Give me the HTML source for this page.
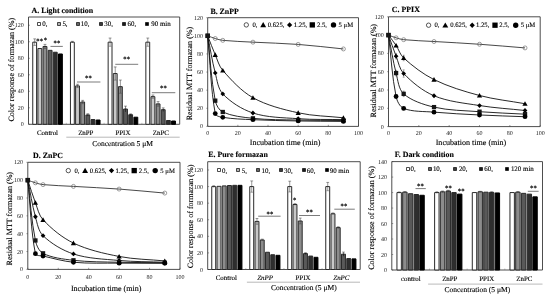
<!DOCTYPE html>
<html lang="en">
<head>
<meta charset="utf-8">
<title>Figure: photosensitized degradation of MTT formazan</title>
<style>
html,body{margin:0;padding:0;background:#fff;}
body{width:550px;height:297px;overflow:hidden;}
svg{display:block;}
svg text{stroke:#000;stroke-width:0.12px;}
svg text.tk{stroke:none;fill:#1a1a1a;}
</style>
</head>
<body>
<svg width="550" height="297" viewBox="0 0 550 297" font-family='"Liberation Serif", "DejaVu Serif", serif' text-rendering="geometricPrecision">
<rect x="0" y="0" width="550" height="297" fill="#fff"/>
<g stroke-linejoin="round">
<rect x="28.5" y="17" width="151.2" height="107.3" fill="#fff" stroke="#3a3a3a" stroke-width="0.9"/>
<line x1="28.5" y1="124.3" x2="29.9" y2="124.3" stroke="#3a3a3a" stroke-width="0.5"/>
<text x="23.7" y="126.3" font-size="6" text-anchor="end" class="tk">0</text>
<line x1="28.5" y1="107.79" x2="29.9" y2="107.79" stroke="#3a3a3a" stroke-width="0.5"/>
<text x="23.7" y="109.79" font-size="6" text-anchor="end" class="tk">20</text>
<line x1="28.5" y1="91.28" x2="29.9" y2="91.28" stroke="#3a3a3a" stroke-width="0.5"/>
<text x="23.7" y="93.28" font-size="6" text-anchor="end" class="tk">40</text>
<line x1="28.5" y1="74.78" x2="29.9" y2="74.78" stroke="#3a3a3a" stroke-width="0.5"/>
<text x="23.7" y="76.78" font-size="6" text-anchor="end" class="tk">60</text>
<line x1="28.5" y1="58.27" x2="29.9" y2="58.27" stroke="#3a3a3a" stroke-width="0.5"/>
<text x="23.7" y="60.27" font-size="6" text-anchor="end" class="tk">80</text>
<line x1="28.5" y1="41.76" x2="29.9" y2="41.76" stroke="#3a3a3a" stroke-width="0.5"/>
<text x="23.7" y="43.76" font-size="6" text-anchor="end" class="tk">100</text>
<line x1="28.5" y1="25.25" x2="29.9" y2="25.25" stroke="#3a3a3a" stroke-width="0.5"/>
<text x="23.7" y="27.25" font-size="6" text-anchor="end" class="tk">120</text>
<line x1="66.3" y1="124.3" x2="66.3" y2="122.8" stroke="#666" stroke-width="0.4"/>
<line x1="104.1" y1="124.3" x2="104.1" y2="122.8" stroke="#666" stroke-width="0.4"/>
<line x1="141.9" y1="124.3" x2="141.9" y2="122.8" stroke="#666" stroke-width="0.4"/>
<text x="31.5" y="12.7" font-size="7.9" font-weight="bold">A. Light condition</text>
<text x="14" y="69.7" font-size="8.05" text-anchor="middle" transform="rotate(-90 14 69.7)">Color response of formazan (%)</text>
<rect x="32.75" y="42.17" width="3.85" height="82.13" fill="#ffffff" stroke="#2a2a2a" stroke-width="1"/>
<line x1="34.68" y1="38.87" x2="34.68" y2="45.48" stroke="#333" stroke-width="0.5"/>
<line x1="33.28" y1="38.87" x2="36.08" y2="38.87" stroke="#333" stroke-width="0.5"/>
<line x1="33.28" y1="45.48" x2="36.08" y2="45.48" stroke="#444" stroke-width="0.45"/>
<rect x="37.9" y="48.53" width="3.85" height="75.77" fill="#c8c8c8" stroke="#2a2a2a" stroke-width="1"/>
<rect x="43.05" y="46.47" width="3.85" height="77.83" fill="#8c8c8c" stroke="#2a2a2a" stroke-width="1"/>
<line x1="44.98" y1="44.4" x2="44.98" y2="48.53" stroke="#333" stroke-width="0.5"/>
<line x1="43.58" y1="44.4" x2="46.38" y2="44.4" stroke="#333" stroke-width="0.5"/>
<line x1="43.58" y1="48.53" x2="46.38" y2="48.53" stroke="#444" stroke-width="0.45"/>
<rect x="48.2" y="50.35" width="3.85" height="73.95" fill="#595959" stroke="#2a2a2a" stroke-width="1"/>
<rect x="53.35" y="52.24" width="3.85" height="72.06" fill="#2e2e2e" stroke="#2a2a2a" stroke-width="1"/>
<rect x="58.5" y="53.98" width="3.85" height="70.32" fill="#000000" stroke="#000" stroke-width="1"/>
<rect x="70.45" y="42.17" width="3.85" height="82.13" fill="#ffffff" stroke="#2a2a2a" stroke-width="1"/>
<line x1="72.38" y1="41.35" x2="72.38" y2="43" stroke="#333" stroke-width="0.5"/>
<line x1="70.98" y1="41.35" x2="73.78" y2="41.35" stroke="#333" stroke-width="0.5"/>
<rect x="75.6" y="85.92" width="3.85" height="38.38" fill="#c8c8c8" stroke="#2a2a2a" stroke-width="1"/>
<line x1="77.53" y1="84.27" x2="77.53" y2="87.57" stroke="#333" stroke-width="0.5"/>
<line x1="76.13" y1="84.27" x2="78.93" y2="84.27" stroke="#333" stroke-width="0.5"/>
<line x1="76.13" y1="87.57" x2="78.93" y2="87.57" stroke="#444" stroke-width="0.45"/>
<rect x="80.75" y="102.01" width="3.85" height="22.29" fill="#8c8c8c" stroke="#2a2a2a" stroke-width="1"/>
<line x1="82.68" y1="100.36" x2="82.68" y2="103.67" stroke="#333" stroke-width="0.5"/>
<line x1="81.28" y1="100.36" x2="84.08" y2="100.36" stroke="#333" stroke-width="0.5"/>
<line x1="81.28" y1="103.67" x2="84.08" y2="103.67" stroke="#444" stroke-width="0.45"/>
<rect x="85.9" y="114.97" width="3.85" height="9.33" fill="#595959" stroke="#2a2a2a" stroke-width="1"/>
<line x1="87.83" y1="113.74" x2="87.83" y2="116.21" stroke="#000" stroke-width="0.5"/>
<line x1="86.43" y1="113.74" x2="89.23" y2="113.74" stroke="#333" stroke-width="0.5"/>
<rect x="91.05" y="119.51" width="3.85" height="4.79" fill="#2e2e2e" stroke="#2a2a2a" stroke-width="1"/>
<rect x="96.2" y="120.01" width="3.85" height="4.29" fill="#000000" stroke="#000" stroke-width="1"/>
<rect x="108.15" y="42.17" width="3.85" height="82.13" fill="#ffffff" stroke="#2a2a2a" stroke-width="1"/>
<line x1="110.08" y1="38.05" x2="110.08" y2="46.3" stroke="#333" stroke-width="0.5"/>
<line x1="108.67" y1="38.05" x2="111.48" y2="38.05" stroke="#333" stroke-width="0.5"/>
<line x1="108.67" y1="46.3" x2="111.48" y2="46.3" stroke="#444" stroke-width="0.45"/>
<rect x="113.3" y="73.54" width="3.85" height="50.76" fill="#c8c8c8" stroke="#2a2a2a" stroke-width="1"/>
<line x1="115.23" y1="66.94" x2="115.23" y2="80.14" stroke="#333" stroke-width="0.5"/>
<line x1="113.83" y1="66.94" x2="116.63" y2="66.94" stroke="#333" stroke-width="0.5"/>
<line x1="113.83" y1="80.14" x2="116.63" y2="80.14" stroke="#444" stroke-width="0.45"/>
<rect x="118.45" y="86.66" width="3.85" height="37.64" fill="#8c8c8c" stroke="#2a2a2a" stroke-width="1"/>
<line x1="120.38" y1="80.06" x2="120.38" y2="93.27" stroke="#333" stroke-width="0.5"/>
<line x1="118.97" y1="80.06" x2="121.78" y2="80.06" stroke="#333" stroke-width="0.5"/>
<line x1="118.97" y1="93.27" x2="121.78" y2="93.27" stroke="#444" stroke-width="0.45"/>
<rect x="123.6" y="109.03" width="3.85" height="15.27" fill="#595959" stroke="#2a2a2a" stroke-width="1"/>
<line x1="125.53" y1="106.14" x2="125.53" y2="111.92" stroke="#000" stroke-width="0.5"/>
<line x1="124.12" y1="106.14" x2="126.93" y2="106.14" stroke="#333" stroke-width="0.5"/>
<rect x="128.75" y="114.73" width="3.85" height="9.57" fill="#2e2e2e" stroke="#2a2a2a" stroke-width="1"/>
<line x1="130.67" y1="113.9" x2="130.67" y2="115.55" stroke="#000" stroke-width="0.5"/>
<line x1="129.27" y1="113.9" x2="132.07" y2="113.9" stroke="#333" stroke-width="0.5"/>
<rect x="133.9" y="117.2" width="3.85" height="7.1" fill="#000000" stroke="#000" stroke-width="1"/>
<rect x="145.85" y="42.17" width="3.85" height="82.13" fill="#ffffff" stroke="#2a2a2a" stroke-width="1"/>
<line x1="147.78" y1="38.05" x2="147.78" y2="46.3" stroke="#333" stroke-width="0.5"/>
<line x1="146.38" y1="38.05" x2="149.18" y2="38.05" stroke="#333" stroke-width="0.5"/>
<line x1="146.38" y1="46.3" x2="149.18" y2="46.3" stroke="#444" stroke-width="0.45"/>
<rect x="151" y="96.65" width="3.85" height="27.65" fill="#c8c8c8" stroke="#2a2a2a" stroke-width="1"/>
<line x1="152.93" y1="95" x2="152.93" y2="98.3" stroke="#333" stroke-width="0.5"/>
<line x1="151.53" y1="95" x2="154.33" y2="95" stroke="#333" stroke-width="0.5"/>
<line x1="151.53" y1="98.3" x2="154.33" y2="98.3" stroke="#444" stroke-width="0.45"/>
<rect x="156.15" y="103.91" width="3.85" height="20.39" fill="#8c8c8c" stroke="#2a2a2a" stroke-width="1"/>
<line x1="158.08" y1="101.6" x2="158.08" y2="106.22" stroke="#333" stroke-width="0.5"/>
<line x1="156.68" y1="101.6" x2="159.48" y2="101.6" stroke="#333" stroke-width="0.5"/>
<line x1="156.68" y1="106.22" x2="159.48" y2="106.22" stroke="#444" stroke-width="0.45"/>
<rect x="161.3" y="109.69" width="3.85" height="14.61" fill="#595959" stroke="#2a2a2a" stroke-width="1"/>
<line x1="163.22" y1="107.87" x2="163.22" y2="111.51" stroke="#000" stroke-width="0.5"/>
<line x1="161.82" y1="107.87" x2="164.62" y2="107.87" stroke="#333" stroke-width="0.5"/>
<rect x="166.45" y="120.5" width="3.85" height="3.8" fill="#2e2e2e" stroke="#2a2a2a" stroke-width="1"/>
<rect x="171.6" y="121" width="3.85" height="3.3" fill="#000000" stroke="#000" stroke-width="1"/>
<rect x="37.5" y="22.5" width="3" height="3" fill="#ffffff" stroke="#111" stroke-width="0.75"/>
<text x="42.2" y="26.35" font-size="6.95">0,</text>
<rect x="57.5" y="22.5" width="3" height="3" fill="#b4b4b4" stroke="#111" stroke-width="0.75"/>
<text x="62.4" y="26.35" font-size="6.95">5,</text>
<rect x="76.5" y="22.5" width="3" height="3" fill="#666666" stroke="#111" stroke-width="0.75"/>
<text x="80.8" y="26.35" font-size="6.95">10,</text>
<rect x="99.5" y="22.5" width="3" height="3" fill="#3c3c3c" stroke="#111" stroke-width="0.75"/>
<text x="104.3" y="26.35" font-size="6.95">30,</text>
<rect x="122.5" y="22.5" width="3" height="3" fill="#1c1c1c" stroke="#111" stroke-width="0.75"/>
<text x="127.5" y="26.35" font-size="6.95">60,</text>
<rect x="145.5" y="22.5" width="3" height="3" fill="#000000" stroke="#111" stroke-width="0.75"/>
<text x="151.3" y="26.35" font-size="6.95">90 min</text>
<text x="47.5" y="135" font-size="6.9" text-anchor="middle">Control</text>
<text x="85.8" y="135" font-size="6.9" text-anchor="middle">ZnPP</text>
<text x="122.9" y="135" font-size="6.9" text-anchor="middle">PPIX</text>
<text x="160.8" y="135" font-size="6.9" text-anchor="middle">ZnPC</text>
<line x1="66.3" y1="137.2" x2="179.7" y2="137.2" stroke="#8a8a8a" stroke-width="0.6"/>
<text x="122.5" y="145.7" font-size="7.5" text-anchor="middle">Concentration 5 μM</text>
<text x="39.8" y="43.1" font-size="6.6" text-anchor="middle" font-weight="bold" letter-spacing="0.2">**</text>
<text x="45.6" y="42.2" font-size="6.6" text-anchor="middle" font-weight="bold" letter-spacing="0.2">*</text>
<text x="57" y="45" font-size="6.6" text-anchor="middle" font-weight="bold" letter-spacing="0.2">**</text>
<line x1="50.5" y1="46.4" x2="62.8" y2="46.4" stroke="#222" stroke-width="0.6"/>
<text x="88.4" y="80.2" font-size="6.6" text-anchor="middle" font-weight="bold" letter-spacing="0.2">**</text>
<line x1="77" y1="82" x2="100.4" y2="82" stroke="#222" stroke-width="0.6"/>
<text x="126.8" y="61.4" font-size="6.6" text-anchor="middle" font-weight="bold" letter-spacing="0.2">**</text>
<line x1="115.3" y1="64.3" x2="138.2" y2="64.3" stroke="#222" stroke-width="0.6"/>
<text x="163.6" y="90.2" font-size="6.6" text-anchor="middle" font-weight="bold" letter-spacing="0.2">**</text>
<line x1="151.8" y1="92.7" x2="175.3" y2="92.7" stroke="#222" stroke-width="0.6"/>
<rect x="207.7" y="17.7" width="150.8" height="108.7" fill="#fff" stroke="#3a3a3a" stroke-width="0.9"/>
<line x1="206.3" y1="126.4" x2="207.7" y2="126.4" stroke="#3a3a3a" stroke-width="0.5"/>
<text x="202.9" y="128.4" font-size="6" text-anchor="end" class="tk">0</text>
<line x1="206.3" y1="108.28" x2="207.7" y2="108.28" stroke="#3a3a3a" stroke-width="0.5"/>
<text x="202.9" y="110.28" font-size="6" text-anchor="end" class="tk">20</text>
<line x1="206.3" y1="90.17" x2="207.7" y2="90.17" stroke="#3a3a3a" stroke-width="0.5"/>
<text x="202.9" y="92.17" font-size="6" text-anchor="end" class="tk">40</text>
<line x1="206.3" y1="72.05" x2="207.7" y2="72.05" stroke="#3a3a3a" stroke-width="0.5"/>
<text x="202.9" y="74.05" font-size="6" text-anchor="end" class="tk">60</text>
<line x1="206.3" y1="53.93" x2="207.7" y2="53.93" stroke="#3a3a3a" stroke-width="0.5"/>
<text x="202.9" y="55.93" font-size="6" text-anchor="end" class="tk">80</text>
<line x1="206.3" y1="35.82" x2="207.7" y2="35.82" stroke="#3a3a3a" stroke-width="0.5"/>
<text x="202.9" y="37.82" font-size="6" text-anchor="end" class="tk">100</text>
<line x1="206.3" y1="17.7" x2="207.7" y2="17.7" stroke="#3a3a3a" stroke-width="0.5"/>
<text x="202.9" y="19.7" font-size="6" text-anchor="end" class="tk">120</text>
<line x1="207.7" y1="126.4" x2="207.7" y2="124.8" stroke="#3a3a3a" stroke-width="0.5"/>
<text x="207.7" y="134.9" font-size="6" text-anchor="middle" class="tk">0</text>
<line x1="237.86" y1="126.4" x2="237.86" y2="124.8" stroke="#3a3a3a" stroke-width="0.5"/>
<text x="237.86" y="134.9" font-size="6" text-anchor="middle" class="tk">20</text>
<line x1="268.02" y1="126.4" x2="268.02" y2="124.8" stroke="#3a3a3a" stroke-width="0.5"/>
<text x="268.02" y="134.9" font-size="6" text-anchor="middle" class="tk">40</text>
<line x1="298.18" y1="126.4" x2="298.18" y2="124.8" stroke="#3a3a3a" stroke-width="0.5"/>
<text x="298.18" y="134.9" font-size="6" text-anchor="middle" class="tk">60</text>
<line x1="328.34" y1="126.4" x2="328.34" y2="124.8" stroke="#3a3a3a" stroke-width="0.5"/>
<text x="328.34" y="134.9" font-size="6" text-anchor="middle" class="tk">80</text>
<line x1="358.5" y1="126.4" x2="358.5" y2="124.8" stroke="#3a3a3a" stroke-width="0.5"/>
<text x="358.5" y="134.9" font-size="6" text-anchor="middle" class="tk">100</text>
<text x="210.4" y="13.8" font-size="7.9" font-weight="bold">B. ZnPP</text>
<text x="192.1" y="73.5" font-size="8.05" text-anchor="middle" transform="rotate(-90 192.1 73.5)">Residual MTT formazan (%)</text>
<text x="285.1" y="145.2" font-size="8.05" text-anchor="middle">Incubation time (min)</text>
<path d="M207.7 35.82C210.21 36.72 212.69 37.77 215.24 38.53C217.71 39.28 220.21 40.1 222.78 40.35C232.78 41.31 242.88 41.61 252.94 42.16C268.02 42.97 283.13 43.29 298.18 44.42C313.29 45.56 328.34 47.44 343.42 48.95" fill="none" stroke="#333" stroke-width="0.9"/>
<path d="M207.7 35.82C210.21 42.16 212.52 48.59 215.24 54.84C217.54 60.12 219.03 66.15 222.78 70.42C231.59 80.44 241.38 91.18 252.94 97.69C266.51 105.31 282.75 109.38 298.18 112.81C312.91 116.09 328.34 116.13 343.42 117.79" fill="none" stroke="#111" stroke-width="0.9"/>
<path d="M207.7 35.82C210.21 48.2 212.07 60.76 215.24 72.96C217.1 80.11 217.96 88.76 222.78 93.88C230.52 102.1 241.9 109.36 252.94 112.99C267.04 117.63 283.04 117.59 298.18 118.7C313.2 119.8 328.34 119.3 343.42 119.61" fill="none" stroke="#111" stroke-width="0.9"/>
<path d="M207.7 35.82C210.21 57.44 211.08 79.66 215.24 100.67C216.11 105.05 218.93 110.19 222.78 112C231.5 116.08 242.76 117.25 252.94 118.34C267.89 119.94 283.09 119.7 298.18 120.06C313.25 120.42 328.34 120.36 343.42 120.51" fill="none" stroke="#111" stroke-width="0.9"/>
<path d="M207.7 35.82C210.21 61.72 210.7 89.01 215.24 113.54C215.73 116.19 220.04 116.89 222.78 117.34C232.6 118.95 242.87 119.21 252.94 119.7C268 120.42 283.1 120.68 298.18 120.97C313.26 121.25 328.34 121.27 343.42 121.42" fill="none" stroke="#111" stroke-width="0.9"/>
<circle cx="215.24" cy="38.53" r="2" fill="none" stroke="#6a6a6a" stroke-width="0.65"/>
<circle cx="222.78" cy="40.35" r="2" fill="none" stroke="#6a6a6a" stroke-width="0.65"/>
<circle cx="252.94" cy="42.16" r="2" fill="none" stroke="#6a6a6a" stroke-width="0.65"/>
<circle cx="298.18" cy="44.42" r="2" fill="none" stroke="#6a6a6a" stroke-width="0.65"/>
<circle cx="343.42" cy="48.95" r="2" fill="none" stroke="#6a6a6a" stroke-width="0.65"/>
<path d="M215.24 52.34L217.86 56.96L212.61 56.96Z" fill="#000"/>
<path d="M222.78 67.92L225.41 72.54L220.16 72.54Z" fill="#000"/>
<path d="M252.94 95.19L255.56 99.81L250.31 99.81Z" fill="#000"/>
<path d="M298.18 110.31L300.81 114.94L295.56 114.94Z" fill="#000"/>
<path d="M343.42 115.29L346.04 119.92L340.79 119.92Z" fill="#000"/>
<path d="M215.24 70.56L217.59 72.96L215.24 75.36L212.89 72.96Z" fill="#000"/>
<path d="M222.78 91.48L225.13 93.88L222.78 96.28L220.43 93.88Z" fill="#000"/>
<path d="M252.94 110.59L255.29 112.99L252.94 115.39L250.59 112.99Z" fill="#000"/>
<path d="M298.18 116.3L300.53 118.7L298.18 121.1L295.83 118.7Z" fill="#000"/>
<path d="M343.42 117.21L345.77 119.61L343.42 122.01L341.07 119.61Z" fill="#000"/>
<rect x="205.55" y="33.67" width="4.3" height="4.3" fill="#151515"/>
<rect x="213.09" y="98.52" width="4.3" height="4.3" fill="#151515"/>
<rect x="220.63" y="109.85" width="4.3" height="4.3" fill="#151515"/>
<rect x="250.79" y="116.19" width="4.3" height="4.3" fill="#151515"/>
<rect x="296.03" y="117.91" width="4.3" height="4.3" fill="#151515"/>
<rect x="341.27" y="118.36" width="4.3" height="4.3" fill="#151515"/>
<circle cx="215.24" cy="113.54" r="2.4" fill="#000"/>
<circle cx="222.78" cy="117.34" r="2.4" fill="#000"/>
<circle cx="252.94" cy="119.7" r="2.4" fill="#000"/>
<circle cx="298.18" cy="120.97" r="2.4" fill="#000"/>
<circle cx="343.42" cy="121.42" r="2.4" fill="#000"/>
<rect x="205.44" y="33.56" width="4.51" height="4.51" fill="#151515"/>
<circle cx="246.3" cy="24.9" r="2.2" fill="#fff" stroke="#222" stroke-width="0.75"/>
<text x="252.4" y="27.1" font-size="6.7">0,</text>
<path d="M263.2 22.1L266.14 27.28L260.26 27.28Z" fill="#000"/>
<text x="267.7" y="27.1" font-size="6.7">0.625,</text>
<path d="M289.6 22.21L292.23 24.9L289.6 27.59L286.97 24.9Z" fill="#000"/>
<text x="293.8" y="27.1" font-size="6.7">1.25,</text>
<rect x="309.65" y="22.25" width="5.3" height="5.3" fill="#000"/>
<text x="317" y="27.1" font-size="6.7">2.5,</text>
<circle cx="333.5" cy="24.9" r="2.69" fill="#000"/>
<text x="338.6" y="27.1" font-size="6.7">5 μM</text>
<rect x="388.5" y="16.8" width="151.7" height="109.8" fill="#fff" stroke="#3a3a3a" stroke-width="0.9"/>
<line x1="387.1" y1="126.6" x2="388.5" y2="126.6" stroke="#3a3a3a" stroke-width="0.5"/>
<text x="383.7" y="128.6" font-size="6" text-anchor="end" class="tk">0</text>
<line x1="387.1" y1="108.3" x2="388.5" y2="108.3" stroke="#3a3a3a" stroke-width="0.5"/>
<text x="383.7" y="110.3" font-size="6" text-anchor="end" class="tk">20</text>
<line x1="387.1" y1="90" x2="388.5" y2="90" stroke="#3a3a3a" stroke-width="0.5"/>
<text x="383.7" y="92" font-size="6" text-anchor="end" class="tk">40</text>
<line x1="387.1" y1="71.7" x2="388.5" y2="71.7" stroke="#3a3a3a" stroke-width="0.5"/>
<text x="383.7" y="73.7" font-size="6" text-anchor="end" class="tk">60</text>
<line x1="387.1" y1="53.4" x2="388.5" y2="53.4" stroke="#3a3a3a" stroke-width="0.5"/>
<text x="383.7" y="55.4" font-size="6" text-anchor="end" class="tk">80</text>
<line x1="387.1" y1="35.1" x2="388.5" y2="35.1" stroke="#3a3a3a" stroke-width="0.5"/>
<text x="383.7" y="37.1" font-size="6" text-anchor="end" class="tk">100</text>
<line x1="387.1" y1="16.8" x2="388.5" y2="16.8" stroke="#3a3a3a" stroke-width="0.5"/>
<text x="383.7" y="18.8" font-size="6" text-anchor="end" class="tk">120</text>
<line x1="388.5" y1="126.6" x2="388.5" y2="125" stroke="#3a3a3a" stroke-width="0.5"/>
<text x="388.5" y="134.9" font-size="6" text-anchor="middle" class="tk">0</text>
<line x1="418.84" y1="126.6" x2="418.84" y2="125" stroke="#3a3a3a" stroke-width="0.5"/>
<text x="418.84" y="134.9" font-size="6" text-anchor="middle" class="tk">20</text>
<line x1="449.18" y1="126.6" x2="449.18" y2="125" stroke="#3a3a3a" stroke-width="0.5"/>
<text x="449.18" y="134.9" font-size="6" text-anchor="middle" class="tk">40</text>
<line x1="479.52" y1="126.6" x2="479.52" y2="125" stroke="#3a3a3a" stroke-width="0.5"/>
<text x="479.52" y="134.9" font-size="6" text-anchor="middle" class="tk">60</text>
<line x1="509.86" y1="126.6" x2="509.86" y2="125" stroke="#3a3a3a" stroke-width="0.5"/>
<text x="509.86" y="134.9" font-size="6" text-anchor="middle" class="tk">80</text>
<line x1="540.2" y1="126.6" x2="540.2" y2="125" stroke="#3a3a3a" stroke-width="0.5"/>
<text x="540.2" y="134.9" font-size="6" text-anchor="middle" class="tk">100</text>
<text x="391.8" y="12" font-size="7.9" font-weight="bold">C. PPIX</text>
<text x="376.3" y="70.7" font-size="8.05" text-anchor="middle" transform="rotate(-90 376.3 70.7)">Residual MTT formazan (%)</text>
<text x="471" y="145.4" font-size="8.05" text-anchor="middle">Incubation time (min)</text>
<path d="M388.5 35.1C391.03 36.02 393.51 37.07 396.08 37.84C398.57 38.59 401.09 39.43 403.67 39.67C413.73 40.65 423.9 40.89 434.01 41.5C449.18 42.42 464.36 43.18 479.52 44.25C494.7 45.32 509.86 46.69 525.03 47.91" fill="none" stroke="#333" stroke-width="0.9"/>
<path d="M388.5 35.1C391.03 38.55 393.72 41.88 396.08 45.44C398.78 49.51 400.1 54.76 403.67 57.97C412.74 66.14 422.99 74.12 434.01 79.57C448.28 86.62 464.03 91.38 479.52 95.49C494.37 99.43 509.86 100.98 525.03 103.72" fill="none" stroke="#111" stroke-width="0.9"/>
<path d="M388.5 35.1C391.03 42.12 393.35 49.21 396.08 56.14C398.41 62.02 399.43 69.1 403.67 73.53C412.07 82.31 422.71 90.99 434.01 95.76C447.99 101.67 464.22 103.08 479.52 105.55C494.56 107.99 509.86 108.85 525.03 110.5" fill="none" stroke="#111" stroke-width="0.9"/>
<path d="M388.5 35.1C391.03 47.76 392.87 60.61 396.08 73.07C397.92 80.19 398.61 89.3 403.67 93.84C411.25 100.65 423.39 104.61 434.01 107.11C448.68 110.56 464.32 110.51 479.52 111.69C494.66 112.86 509.86 113.33 525.03 114.16" fill="none" stroke="#111" stroke-width="0.9"/>
<path d="M388.5 35.1C391.03 55.57 391.97 76.6 396.08 96.5C397.02 101.03 399.68 106.74 403.67 108.39C412.32 111.96 423.86 111.26 434.01 112.14C449.15 113.46 464.34 114.22 479.52 114.98C494.68 115.74 509.86 116.14 525.03 116.72" fill="none" stroke="#111" stroke-width="0.9"/>
<line x1="403.67" y1="69.87" x2="403.67" y2="77.19" stroke="#333" stroke-width="0.4"/>
<line x1="402.67" y1="69.87" x2="404.67" y2="69.87" stroke="#333" stroke-width="0.4"/>
<line x1="402.67" y1="77.19" x2="404.67" y2="77.19" stroke="#333" stroke-width="0.4"/>
<line x1="403.67" y1="91.1" x2="403.67" y2="96.59" stroke="#333" stroke-width="0.4"/>
<line x1="402.67" y1="91.1" x2="404.67" y2="91.1" stroke="#333" stroke-width="0.4"/>
<line x1="402.67" y1="96.59" x2="404.67" y2="96.59" stroke="#333" stroke-width="0.4"/>
<line x1="396.08" y1="70.33" x2="396.08" y2="75.82" stroke="#333" stroke-width="0.4"/>
<line x1="395.08" y1="70.33" x2="397.08" y2="70.33" stroke="#333" stroke-width="0.4"/>
<line x1="395.08" y1="75.82" x2="397.08" y2="75.82" stroke="#333" stroke-width="0.4"/>
<line x1="396.08" y1="53.4" x2="396.08" y2="58.89" stroke="#333" stroke-width="0.4"/>
<line x1="395.08" y1="53.4" x2="397.08" y2="53.4" stroke="#333" stroke-width="0.4"/>
<line x1="395.08" y1="58.89" x2="397.08" y2="58.89" stroke="#333" stroke-width="0.4"/>
<line x1="403.67" y1="55.23" x2="403.67" y2="60.72" stroke="#333" stroke-width="0.4"/>
<line x1="402.67" y1="55.23" x2="404.67" y2="55.23" stroke="#333" stroke-width="0.4"/>
<line x1="402.67" y1="60.72" x2="404.67" y2="60.72" stroke="#333" stroke-width="0.4"/>
<circle cx="396.08" cy="37.84" r="2" fill="none" stroke="#6a6a6a" stroke-width="0.65"/>
<circle cx="403.67" cy="39.67" r="2" fill="none" stroke="#6a6a6a" stroke-width="0.65"/>
<circle cx="434.01" cy="41.5" r="2" fill="none" stroke="#6a6a6a" stroke-width="0.65"/>
<circle cx="479.52" cy="44.25" r="2" fill="none" stroke="#6a6a6a" stroke-width="0.65"/>
<circle cx="525.03" cy="47.91" r="2" fill="none" stroke="#6a6a6a" stroke-width="0.65"/>
<path d="M396.08 42.94L398.71 47.56L393.46 47.56Z" fill="#000"/>
<path d="M403.67 55.47L406.3 60.1L401.05 60.1Z" fill="#000"/>
<path d="M434.01 77.07L436.63 81.69L431.38 81.69Z" fill="#000"/>
<path d="M479.52 92.99L482.15 97.61L476.9 97.61Z" fill="#000"/>
<path d="M525.03 101.22L527.65 105.85L522.4 105.85Z" fill="#000"/>
<path d="M396.08 53.74L398.44 56.14L396.08 58.54L393.73 56.14Z" fill="#000"/>
<path d="M403.67 71.13L406.02 73.53L403.67 75.93L401.32 73.53Z" fill="#000"/>
<path d="M434.01 93.36L436.36 95.76L434.01 98.16L431.66 95.76Z" fill="#000"/>
<path d="M479.52 103.15L481.87 105.55L479.52 107.95L477.17 105.55Z" fill="#000"/>
<path d="M525.03 108.1L527.38 110.5L525.03 112.9L522.68 110.5Z" fill="#000"/>
<rect x="386.35" y="32.95" width="4.3" height="4.3" fill="#151515"/>
<rect x="393.94" y="70.92" width="4.3" height="4.3" fill="#151515"/>
<rect x="401.52" y="91.69" width="4.3" height="4.3" fill="#151515"/>
<rect x="431.86" y="104.96" width="4.3" height="4.3" fill="#151515"/>
<rect x="477.37" y="109.54" width="4.3" height="4.3" fill="#151515"/>
<rect x="522.88" y="112.01" width="4.3" height="4.3" fill="#151515"/>
<circle cx="396.08" cy="96.5" r="2.4" fill="#000"/>
<circle cx="403.67" cy="108.39" r="2.4" fill="#000"/>
<circle cx="434.01" cy="112.14" r="2.4" fill="#000"/>
<circle cx="479.52" cy="114.98" r="2.4" fill="#000"/>
<circle cx="525.03" cy="116.72" r="2.4" fill="#000"/>
<rect x="386.24" y="32.84" width="4.51" height="4.51" fill="#151515"/>
<circle cx="428.6" cy="25.2" r="2.2" fill="#fff" stroke="#222" stroke-width="0.75"/>
<text x="434.4" y="27.4" font-size="6.7">0,</text>
<path d="M445.3 22.4L448.24 27.58L442.36 27.58Z" fill="#000"/>
<text x="450.2" y="27.4" font-size="6.7">0.625,</text>
<path d="M472.2 22.51L474.83 25.2L472.2 27.89L469.57 25.2Z" fill="#000"/>
<text x="476" y="27.4" font-size="6.7">1.25,</text>
<rect x="492.35" y="22.55" width="5.3" height="5.3" fill="#000"/>
<text x="499.2" y="27.4" font-size="6.7">2.5,</text>
<circle cx="515.7" cy="25.2" r="2.69" fill="#000"/>
<text x="520.7" y="27.4" font-size="6.7">5 μM</text>
<rect x="27.8" y="162.3" width="152.2" height="107.1" fill="#fff" stroke="#3a3a3a" stroke-width="0.9"/>
<line x1="26.4" y1="269.4" x2="27.8" y2="269.4" stroke="#3a3a3a" stroke-width="0.5"/>
<text x="23" y="271.4" font-size="6" text-anchor="end" class="tk">0</text>
<line x1="26.4" y1="251.55" x2="27.8" y2="251.55" stroke="#3a3a3a" stroke-width="0.5"/>
<text x="23" y="253.55" font-size="6" text-anchor="end" class="tk">20</text>
<line x1="26.4" y1="233.7" x2="27.8" y2="233.7" stroke="#3a3a3a" stroke-width="0.5"/>
<text x="23" y="235.7" font-size="6" text-anchor="end" class="tk">40</text>
<line x1="26.4" y1="215.85" x2="27.8" y2="215.85" stroke="#3a3a3a" stroke-width="0.5"/>
<text x="23" y="217.85" font-size="6" text-anchor="end" class="tk">60</text>
<line x1="26.4" y1="198" x2="27.8" y2="198" stroke="#3a3a3a" stroke-width="0.5"/>
<text x="23" y="200" font-size="6" text-anchor="end" class="tk">80</text>
<line x1="26.4" y1="180.15" x2="27.8" y2="180.15" stroke="#3a3a3a" stroke-width="0.5"/>
<text x="23" y="182.15" font-size="6" text-anchor="end" class="tk">100</text>
<line x1="26.4" y1="162.3" x2="27.8" y2="162.3" stroke="#3a3a3a" stroke-width="0.5"/>
<text x="23" y="164.3" font-size="6" text-anchor="end" class="tk">120</text>
<line x1="27.8" y1="269.4" x2="27.8" y2="267.8" stroke="#3a3a3a" stroke-width="0.5"/>
<text x="27.8" y="278.6" font-size="6" text-anchor="middle" class="tk">0</text>
<line x1="58.24" y1="269.4" x2="58.24" y2="267.8" stroke="#3a3a3a" stroke-width="0.5"/>
<text x="58.24" y="278.6" font-size="6" text-anchor="middle" class="tk">20</text>
<line x1="88.68" y1="269.4" x2="88.68" y2="267.8" stroke="#3a3a3a" stroke-width="0.5"/>
<text x="88.68" y="278.6" font-size="6" text-anchor="middle" class="tk">40</text>
<line x1="119.12" y1="269.4" x2="119.12" y2="267.8" stroke="#3a3a3a" stroke-width="0.5"/>
<text x="119.12" y="278.6" font-size="6" text-anchor="middle" class="tk">60</text>
<line x1="149.56" y1="269.4" x2="149.56" y2="267.8" stroke="#3a3a3a" stroke-width="0.5"/>
<text x="149.56" y="278.6" font-size="6" text-anchor="middle" class="tk">80</text>
<line x1="180" y1="269.4" x2="180" y2="267.8" stroke="#3a3a3a" stroke-width="0.5"/>
<text x="180" y="278.6" font-size="6" text-anchor="middle" class="tk">100</text>
<text x="33.1" y="157.8" font-size="7.9" font-weight="bold">D. ZnPC</text>
<text x="12.4" y="218.7" font-size="8.05" text-anchor="middle" transform="rotate(-90 12.4 218.7)">Residual MTT formazan (%)</text>
<text x="106.2" y="291.2" font-size="8.05" text-anchor="middle">Incubation time (min)</text>
<path d="M27.8 180.15C30.34 181.04 32.83 182.07 35.41 182.83C37.91 183.56 40.43 184.37 43.02 184.61C53.12 185.56 63.31 185.8 73.46 186.4C88.68 187.29 103.92 187.96 119.12 189.07C134.36 190.19 149.56 191.75 164.78 193.09" fill="none" stroke="#333" stroke-width="0.9"/>
<path d="M27.8 180.15C30.34 187.68 32.57 195.32 35.41 202.73C37.64 208.53 38.87 215.37 43.02 219.78C51.55 228.82 62.14 237.62 73.46 243.07C87.51 249.84 103.62 253.43 119.12 256.46C134.06 259.38 149.56 259.43 164.78 260.92" fill="none" stroke="#111" stroke-width="0.9"/>
<path d="M27.8 180.15C30.34 192.35 32.13 204.77 35.41 216.74C37.2 223.28 38.39 231.14 43.02 235.66C51.08 243.54 62.42 250.36 73.46 253.96C87.79 258.63 103.83 259.09 119.12 260.47C134.27 261.85 149.56 261.66 164.78 262.26" fill="none" stroke="#111" stroke-width="0.9"/>
<path d="M27.8 180.15C30.34 200.26 31.34 220.9 35.41 240.48C36.41 245.29 38.92 251.2 43.02 253.33C51.6 257.8 63.16 259.09 73.46 260.3C88.53 262.06 103.89 261.86 119.12 262.26C134.33 262.66 149.56 262.56 164.78 262.71" fill="none" stroke="#111" stroke-width="0.9"/>
<path d="M27.8 180.15C30.34 204.66 30.83 230.86 35.41 253.69C35.9 256.15 40.43 255.43 43.02 256.01C53.12 258.29 63.19 261.3 73.46 262.26C88.56 263.68 103.9 262.97 119.12 263.15C134.34 263.33 149.56 263.27 164.78 263.33" fill="none" stroke="#111" stroke-width="0.9"/>
<circle cx="35.41" cy="182.83" r="2" fill="none" stroke="#6a6a6a" stroke-width="0.65"/>
<circle cx="43.02" cy="184.61" r="2" fill="none" stroke="#6a6a6a" stroke-width="0.65"/>
<circle cx="73.46" cy="186.4" r="2" fill="none" stroke="#6a6a6a" stroke-width="0.65"/>
<circle cx="119.12" cy="189.07" r="2" fill="none" stroke="#6a6a6a" stroke-width="0.65"/>
<circle cx="164.78" cy="193.09" r="2" fill="none" stroke="#6a6a6a" stroke-width="0.65"/>
<path d="M35.41 200.23L38.03 204.86L32.78 204.86Z" fill="#000"/>
<path d="M43.02 217.28L45.64 221.9L40.39 221.9Z" fill="#000"/>
<path d="M73.46 240.57L76.08 245.2L70.83 245.2Z" fill="#000"/>
<path d="M119.12 253.96L121.74 258.58L116.49 258.58Z" fill="#000"/>
<path d="M164.78 258.42L167.41 263.05L162.16 263.05Z" fill="#000"/>
<path d="M35.41 214.34L37.76 216.74L35.41 219.14L33.06 216.74Z" fill="#000"/>
<path d="M43.02 233.26L45.37 235.66L43.02 238.06L40.67 235.66Z" fill="#000"/>
<path d="M73.46 251.56L75.81 253.96L73.46 256.36L71.11 253.96Z" fill="#000"/>
<path d="M119.12 258.07L121.47 260.47L119.12 262.87L116.77 260.47Z" fill="#000"/>
<path d="M164.78 259.86L167.13 262.26L164.78 264.66L162.43 262.26Z" fill="#000"/>
<rect x="25.65" y="178" width="4.3" height="4.3" fill="#151515"/>
<rect x="33.26" y="238.33" width="4.3" height="4.3" fill="#151515"/>
<rect x="40.87" y="251.18" width="4.3" height="4.3" fill="#151515"/>
<rect x="71.31" y="258.15" width="4.3" height="4.3" fill="#151515"/>
<rect x="116.97" y="260.11" width="4.3" height="4.3" fill="#151515"/>
<rect x="162.63" y="260.56" width="4.3" height="4.3" fill="#151515"/>
<circle cx="35.41" cy="253.69" r="2.4" fill="#000"/>
<circle cx="43.02" cy="256.01" r="2.4" fill="#000"/>
<circle cx="73.46" cy="262.26" r="2.4" fill="#000"/>
<circle cx="119.12" cy="263.15" r="2.4" fill="#000"/>
<circle cx="164.78" cy="263.33" r="2.4" fill="#000"/>
<rect x="25.54" y="177.89" width="4.51" height="4.51" fill="#151515"/>
<circle cx="68.3" cy="170.6" r="2.2" fill="#fff" stroke="#222" stroke-width="0.75"/>
<text x="74.4" y="172.8" font-size="6.7">0,</text>
<path d="M85.1 167.8L88.04 172.98L82.16 172.98Z" fill="#000"/>
<text x="89.8" y="172.8" font-size="6.7">0.625,</text>
<path d="M111.5 167.91L114.13 170.6L111.5 173.29L108.87 170.6Z" fill="#000"/>
<text x="115.5" y="172.8" font-size="6.7">1.25,</text>
<rect x="131.55" y="167.95" width="5.3" height="5.3" fill="#000"/>
<text x="138.8" y="172.8" font-size="6.7">2.5,</text>
<circle cx="155.2" cy="170.6" r="2.69" fill="#000"/>
<text x="160.3" y="172.8" font-size="6.7">5 μM</text>
<rect x="207.7" y="161.7" width="152.5" height="107.8" fill="#fff" stroke="#3a3a3a" stroke-width="0.9"/>
<line x1="207.7" y1="269.5" x2="209.1" y2="269.5" stroke="#3a3a3a" stroke-width="0.5"/>
<text x="202.9" y="271.5" font-size="6" text-anchor="end" class="tk">0</text>
<line x1="207.7" y1="252.92" x2="209.1" y2="252.92" stroke="#3a3a3a" stroke-width="0.5"/>
<text x="202.9" y="254.92" font-size="6" text-anchor="end" class="tk">20</text>
<line x1="207.7" y1="236.33" x2="209.1" y2="236.33" stroke="#3a3a3a" stroke-width="0.5"/>
<text x="202.9" y="238.33" font-size="6" text-anchor="end" class="tk">40</text>
<line x1="207.7" y1="219.75" x2="209.1" y2="219.75" stroke="#3a3a3a" stroke-width="0.5"/>
<text x="202.9" y="221.75" font-size="6" text-anchor="end" class="tk">60</text>
<line x1="207.7" y1="203.16" x2="209.1" y2="203.16" stroke="#3a3a3a" stroke-width="0.5"/>
<text x="202.9" y="205.16" font-size="6" text-anchor="end" class="tk">80</text>
<line x1="207.7" y1="186.58" x2="209.1" y2="186.58" stroke="#3a3a3a" stroke-width="0.5"/>
<text x="202.9" y="188.58" font-size="6" text-anchor="end" class="tk">100</text>
<line x1="207.7" y1="169.99" x2="209.1" y2="169.99" stroke="#3a3a3a" stroke-width="0.5"/>
<text x="202.9" y="171.99" font-size="6" text-anchor="end" class="tk">120</text>
<line x1="245.82" y1="269.5" x2="245.82" y2="268" stroke="#666" stroke-width="0.4"/>
<line x1="283.95" y1="269.5" x2="283.95" y2="268" stroke="#666" stroke-width="0.4"/>
<line x1="322.07" y1="269.5" x2="322.07" y2="268" stroke="#666" stroke-width="0.4"/>
<text x="208.2" y="157.1" font-size="7.9" font-weight="bold">E. Pure formazan</text>
<text x="192.5" y="216.5" font-size="8.05" text-anchor="middle" transform="rotate(-90 192.5 216.5)">Color response of formazan (%)</text>
<rect x="211.75" y="186.58" width="3.95" height="82.92" fill="#ffffff" stroke="#2a2a2a" stroke-width="1"/>
<line x1="213.72" y1="185.75" x2="213.72" y2="187.41" stroke="#333" stroke-width="0.5"/>
<line x1="212.32" y1="185.75" x2="215.12" y2="185.75" stroke="#333" stroke-width="0.5"/>
<rect x="217" y="186.33" width="3.95" height="83.17" fill="#c8c8c8" stroke="#2a2a2a" stroke-width="1"/>
<rect x="222.25" y="185.91" width="3.95" height="83.59" fill="#8c8c8c" stroke="#2a2a2a" stroke-width="1"/>
<rect x="227.5" y="185.5" width="3.95" height="84" fill="#595959" stroke="#2a2a2a" stroke-width="1"/>
<rect x="232.75" y="185.33" width="3.95" height="84.17" fill="#2e2e2e" stroke="#2a2a2a" stroke-width="1"/>
<rect x="238" y="185.33" width="3.95" height="84.17" fill="#000000" stroke="#000" stroke-width="1"/>
<rect x="249.75" y="186.58" width="3.95" height="82.92" fill="#ffffff" stroke="#2a2a2a" stroke-width="1"/>
<line x1="251.72" y1="180.94" x2="251.72" y2="192.22" stroke="#333" stroke-width="0.5"/>
<line x1="250.32" y1="180.94" x2="253.12" y2="180.94" stroke="#333" stroke-width="0.5"/>
<line x1="250.32" y1="192.22" x2="253.12" y2="192.22" stroke="#444" stroke-width="0.45"/>
<rect x="255" y="221.4" width="3.95" height="48.1" fill="#c8c8c8" stroke="#2a2a2a" stroke-width="1"/>
<line x1="256.98" y1="218.5" x2="256.98" y2="224.31" stroke="#333" stroke-width="0.5"/>
<line x1="255.58" y1="218.5" x2="258.38" y2="218.5" stroke="#333" stroke-width="0.5"/>
<line x1="255.58" y1="224.31" x2="258.38" y2="224.31" stroke="#444" stroke-width="0.45"/>
<rect x="260.25" y="239.98" width="3.95" height="29.52" fill="#8c8c8c" stroke="#2a2a2a" stroke-width="1"/>
<line x1="262.23" y1="239.15" x2="262.23" y2="240.81" stroke="#333" stroke-width="0.5"/>
<line x1="260.83" y1="239.15" x2="263.62" y2="239.15" stroke="#333" stroke-width="0.5"/>
<rect x="265.5" y="252.25" width="3.95" height="17.25" fill="#595959" stroke="#2a2a2a" stroke-width="1"/>
<rect x="270.75" y="254.74" width="3.95" height="14.76" fill="#2e2e2e" stroke="#2a2a2a" stroke-width="1"/>
<rect x="276" y="255.32" width="3.95" height="14.18" fill="#000000" stroke="#000" stroke-width="1"/>
<rect x="287.75" y="186.58" width="3.95" height="82.92" fill="#ffffff" stroke="#2a2a2a" stroke-width="1"/>
<line x1="289.73" y1="181.19" x2="289.73" y2="191.97" stroke="#333" stroke-width="0.5"/>
<line x1="288.33" y1="181.19" x2="291.12" y2="181.19" stroke="#333" stroke-width="0.5"/>
<line x1="288.33" y1="191.97" x2="291.12" y2="191.97" stroke="#444" stroke-width="0.45"/>
<rect x="293" y="204.49" width="3.95" height="65.01" fill="#c8c8c8" stroke="#2a2a2a" stroke-width="1"/>
<line x1="294.98" y1="203.66" x2="294.98" y2="205.32" stroke="#333" stroke-width="0.5"/>
<line x1="293.58" y1="203.66" x2="296.38" y2="203.66" stroke="#333" stroke-width="0.5"/>
<rect x="298.25" y="220.99" width="3.95" height="48.51" fill="#8c8c8c" stroke="#2a2a2a" stroke-width="1"/>
<line x1="300.23" y1="218.09" x2="300.23" y2="223.89" stroke="#333" stroke-width="0.5"/>
<line x1="298.83" y1="218.09" x2="301.62" y2="218.09" stroke="#333" stroke-width="0.5"/>
<line x1="298.83" y1="223.89" x2="301.62" y2="223.89" stroke="#444" stroke-width="0.45"/>
<rect x="303.5" y="253.58" width="3.95" height="15.92" fill="#595959" stroke="#2a2a2a" stroke-width="1"/>
<line x1="305.48" y1="252.75" x2="305.48" y2="254.41" stroke="#000" stroke-width="0.5"/>
<line x1="304.08" y1="252.75" x2="306.88" y2="252.75" stroke="#333" stroke-width="0.5"/>
<rect x="308.75" y="256.07" width="3.95" height="13.43" fill="#2e2e2e" stroke="#2a2a2a" stroke-width="1"/>
<rect x="314" y="257.31" width="3.95" height="12.19" fill="#000000" stroke="#000" stroke-width="1"/>
<rect x="325.75" y="186.58" width="3.95" height="82.92" fill="#ffffff" stroke="#2a2a2a" stroke-width="1"/>
<line x1="327.73" y1="182.43" x2="327.73" y2="190.72" stroke="#333" stroke-width="0.5"/>
<line x1="326.33" y1="182.43" x2="329.12" y2="182.43" stroke="#333" stroke-width="0.5"/>
<line x1="326.33" y1="190.72" x2="329.12" y2="190.72" stroke="#444" stroke-width="0.45"/>
<rect x="331" y="213.78" width="3.95" height="55.72" fill="#c8c8c8" stroke="#2a2a2a" stroke-width="1"/>
<line x1="332.98" y1="212.95" x2="332.98" y2="214.6" stroke="#333" stroke-width="0.5"/>
<line x1="331.58" y1="212.95" x2="334.38" y2="212.95" stroke="#333" stroke-width="0.5"/>
<rect x="336.25" y="227.62" width="3.95" height="41.88" fill="#8c8c8c" stroke="#2a2a2a" stroke-width="1"/>
<line x1="338.23" y1="226.79" x2="338.23" y2="228.45" stroke="#333" stroke-width="0.5"/>
<line x1="336.83" y1="226.79" x2="339.62" y2="226.79" stroke="#333" stroke-width="0.5"/>
<rect x="341.5" y="254.16" width="3.95" height="15.34" fill="#595959" stroke="#2a2a2a" stroke-width="1"/>
<line x1="343.48" y1="252.09" x2="343.48" y2="256.23" stroke="#000" stroke-width="0.5"/>
<line x1="342.08" y1="252.09" x2="344.88" y2="252.09" stroke="#333" stroke-width="0.5"/>
<rect x="346.75" y="258.55" width="3.95" height="10.95" fill="#2e2e2e" stroke="#2a2a2a" stroke-width="1"/>
<rect x="352" y="258.89" width="3.95" height="10.61" fill="#000000" stroke="#000" stroke-width="1"/>
<rect x="217.5" y="168.5" width="3" height="3" fill="#ffffff" stroke="#111" stroke-width="0.75"/>
<text x="222.1" y="172.55" font-size="6.95">0,</text>
<rect x="236.5" y="168.5" width="3" height="3" fill="#b4b4b4" stroke="#111" stroke-width="0.75"/>
<text x="241.7" y="172.55" font-size="6.95">5,</text>
<rect x="256.5" y="168.5" width="3" height="3" fill="#666666" stroke="#111" stroke-width="0.75"/>
<text x="261.5" y="172.55" font-size="6.95">10,</text>
<rect x="279.5" y="168.5" width="3" height="3" fill="#3c3c3c" stroke="#111" stroke-width="0.75"/>
<text x="284.1" y="172.55" font-size="6.95">30,</text>
<rect x="302.5" y="168.5" width="3" height="3" fill="#1c1c1c" stroke="#111" stroke-width="0.75"/>
<text x="306.7" y="172.55" font-size="6.95">60,</text>
<rect x="325.5" y="168.5" width="3" height="3" fill="#000000" stroke="#111" stroke-width="0.75"/>
<text x="329.7" y="172.55" font-size="6.95">90 min</text>
<text x="226.3" y="280.2" font-size="6.9" text-anchor="middle">Control</text>
<text x="265" y="280.2" font-size="6.9" text-anchor="middle" font-style="italic">ZnPP</text>
<text x="303" y="280.2" font-size="6.9" text-anchor="middle">PPIX</text>
<text x="341.4" y="280.2" font-size="6.9" text-anchor="middle" font-style="italic">ZnPC</text>
<line x1="246.9" y1="282.2" x2="360" y2="282.2" stroke="#8a8a8a" stroke-width="0.6"/>
<text x="303.8" y="289.7" font-size="7.5" text-anchor="middle">Concentration (5 μM)</text>
<text x="270" y="215.7" font-size="6.6" text-anchor="middle" font-weight="bold" letter-spacing="0.2">**</text>
<line x1="258.2" y1="216.2" x2="280.6" y2="216.2" stroke="#222" stroke-width="0.6"/>
<text x="294.8" y="201.5" font-size="6.6" text-anchor="middle" font-weight="bold" letter-spacing="0.2">*</text>
<text x="309.5" y="213.6" font-size="6.6" text-anchor="middle" font-weight="bold" letter-spacing="0.2">**</text>
<line x1="299" y1="215.5" x2="320" y2="215.5" stroke="#222" stroke-width="0.6"/>
<text x="344.1" y="207.6" font-size="6.6" text-anchor="middle" font-weight="bold" letter-spacing="0.2">**</text>
<line x1="334.3" y1="209.2" x2="354.8" y2="209.2" stroke="#222" stroke-width="0.6"/>
<rect x="391.8" y="161.6" width="150.7" height="108.4" fill="#fff" stroke="#3a3a3a" stroke-width="0.9"/>
<line x1="391.8" y1="270" x2="393.2" y2="270" stroke="#3a3a3a" stroke-width="0.5"/>
<text x="387" y="272" font-size="6" text-anchor="end" class="tk">0</text>
<line x1="391.8" y1="254.51" x2="393.2" y2="254.51" stroke="#3a3a3a" stroke-width="0.5"/>
<text x="387" y="256.51" font-size="6" text-anchor="end" class="tk">20</text>
<line x1="391.8" y1="239.03" x2="393.2" y2="239.03" stroke="#3a3a3a" stroke-width="0.5"/>
<text x="387" y="241.03" font-size="6" text-anchor="end" class="tk">40</text>
<line x1="391.8" y1="223.54" x2="393.2" y2="223.54" stroke="#3a3a3a" stroke-width="0.5"/>
<text x="387" y="225.54" font-size="6" text-anchor="end" class="tk">60</text>
<line x1="391.8" y1="208.06" x2="393.2" y2="208.06" stroke="#3a3a3a" stroke-width="0.5"/>
<text x="387" y="210.06" font-size="6" text-anchor="end" class="tk">80</text>
<line x1="391.8" y1="192.57" x2="393.2" y2="192.57" stroke="#3a3a3a" stroke-width="0.5"/>
<text x="387" y="194.57" font-size="6" text-anchor="end" class="tk">100</text>
<line x1="391.8" y1="177.09" x2="393.2" y2="177.09" stroke="#3a3a3a" stroke-width="0.5"/>
<text x="387" y="179.09" font-size="6" text-anchor="end" class="tk">120</text>
<line x1="391.8" y1="161.6" x2="393.2" y2="161.6" stroke="#3a3a3a" stroke-width="0.5"/>
<text x="387" y="163.6" font-size="6" text-anchor="end" class="tk">140</text>
<line x1="429.48" y1="270" x2="429.48" y2="268.5" stroke="#666" stroke-width="0.4"/>
<line x1="467.15" y1="270" x2="467.15" y2="268.5" stroke="#666" stroke-width="0.4"/>
<line x1="504.82" y1="270" x2="504.82" y2="268.5" stroke="#666" stroke-width="0.4"/>
<text x="394.7" y="157.1" font-size="7.9" font-weight="bold">F. Dark condition</text>
<text x="373.7" y="218" font-size="8.05" text-anchor="middle" transform="rotate(-90 373.7 218)">Color response of formazan (%)</text>
<rect x="396.95" y="192.57" width="4.42" height="77.43" fill="#ffffff" stroke="#2a2a2a" stroke-width="1"/>
<line x1="399.16" y1="191.95" x2="399.16" y2="193.19" stroke="#333" stroke-width="0.5"/>
<line x1="397.76" y1="191.95" x2="400.56" y2="191.95" stroke="#333" stroke-width="0.5"/>
<rect x="402.67" y="192.18" width="4.42" height="77.82" fill="#8c8c8c" stroke="#2a2a2a" stroke-width="1"/>
<line x1="404.88" y1="191.56" x2="404.88" y2="192.8" stroke="#333" stroke-width="0.5"/>
<line x1="403.48" y1="191.56" x2="406.28" y2="191.56" stroke="#333" stroke-width="0.5"/>
<rect x="408.39" y="193.73" width="4.42" height="76.27" fill="#595959" stroke="#2a2a2a" stroke-width="1"/>
<rect x="414.11" y="194.51" width="4.42" height="75.49" fill="#2e2e2e" stroke="#2a2a2a" stroke-width="1"/>
<rect x="419.83" y="195.28" width="4.42" height="74.72" fill="#000000" stroke="#000" stroke-width="1"/>
<rect x="434.62" y="192.57" width="4.42" height="77.43" fill="#ffffff" stroke="#2a2a2a" stroke-width="1"/>
<line x1="436.83" y1="191.8" x2="436.83" y2="193.35" stroke="#333" stroke-width="0.5"/>
<line x1="435.43" y1="191.8" x2="438.23" y2="191.8" stroke="#333" stroke-width="0.5"/>
<rect x="440.34" y="191.8" width="4.42" height="78.2" fill="#8c8c8c" stroke="#2a2a2a" stroke-width="1"/>
<line x1="442.55" y1="191.02" x2="442.55" y2="192.57" stroke="#333" stroke-width="0.5"/>
<line x1="441.15" y1="191.02" x2="443.95" y2="191.02" stroke="#333" stroke-width="0.5"/>
<rect x="446.06" y="191.02" width="4.42" height="78.98" fill="#595959" stroke="#2a2a2a" stroke-width="1"/>
<line x1="448.27" y1="190.25" x2="448.27" y2="191.8" stroke="#333" stroke-width="0.5"/>
<line x1="446.87" y1="190.25" x2="449.67" y2="190.25" stroke="#333" stroke-width="0.5"/>
<rect x="451.78" y="192.57" width="4.42" height="77.43" fill="#2e2e2e" stroke="#2a2a2a" stroke-width="1"/>
<rect x="457.5" y="194.12" width="4.42" height="75.88" fill="#000000" stroke="#000" stroke-width="1"/>
<rect x="472.29" y="192.57" width="4.42" height="77.43" fill="#ffffff" stroke="#2a2a2a" stroke-width="1"/>
<rect x="478.01" y="191.8" width="4.42" height="78.2" fill="#8c8c8c" stroke="#2a2a2a" stroke-width="1"/>
<line x1="480.22" y1="191.33" x2="480.22" y2="192.26" stroke="#333" stroke-width="0.5"/>
<line x1="478.82" y1="191.33" x2="481.62" y2="191.33" stroke="#333" stroke-width="0.5"/>
<rect x="483.73" y="192.18" width="4.42" height="77.82" fill="#595959" stroke="#2a2a2a" stroke-width="1"/>
<rect x="489.45" y="192.34" width="4.42" height="77.66" fill="#2e2e2e" stroke="#2a2a2a" stroke-width="1"/>
<line x1="491.66" y1="191.87" x2="491.66" y2="192.8" stroke="#000" stroke-width="0.5"/>
<line x1="490.26" y1="191.87" x2="493.06" y2="191.87" stroke="#333" stroke-width="0.5"/>
<rect x="495.17" y="192.96" width="4.42" height="77.04" fill="#000000" stroke="#000" stroke-width="1"/>
<rect x="509.96" y="192.57" width="4.42" height="77.43" fill="#ffffff" stroke="#2a2a2a" stroke-width="1"/>
<rect x="515.68" y="192.18" width="4.42" height="77.82" fill="#8c8c8c" stroke="#2a2a2a" stroke-width="1"/>
<line x1="517.89" y1="191.56" x2="517.89" y2="192.8" stroke="#333" stroke-width="0.5"/>
<line x1="516.49" y1="191.56" x2="519.29" y2="191.56" stroke="#333" stroke-width="0.5"/>
<rect x="521.4" y="193.35" width="4.42" height="76.65" fill="#595959" stroke="#2a2a2a" stroke-width="1"/>
<rect x="527.12" y="194.12" width="4.42" height="75.88" fill="#2e2e2e" stroke="#2a2a2a" stroke-width="1"/>
<rect x="532.84" y="196.83" width="4.42" height="73.17" fill="#000000" stroke="#000" stroke-width="1"/>
<rect x="406.5" y="167.5" width="3" height="3" fill="#ffffff" stroke="#111" stroke-width="0.75"/>
<text x="410.5" y="170.85" font-size="6.95">0,</text>
<rect x="428.5" y="167.5" width="3" height="3" fill="#666666" stroke="#111" stroke-width="0.75"/>
<text x="432.9" y="170.85" font-size="6.95">10,</text>
<rect x="453.5" y="167.5" width="3" height="3" fill="#3c3c3c" stroke="#111" stroke-width="0.75"/>
<text x="458.9" y="170.85" font-size="6.95">20,</text>
<rect x="479.5" y="167.5" width="3" height="3" fill="#1c1c1c" stroke="#111" stroke-width="0.75"/>
<text x="484.3" y="170.85" font-size="6.95">60,</text>
<rect x="505.5" y="167.5" width="3" height="3" fill="#000000" stroke="#111" stroke-width="0.75"/>
<text x="510.9" y="170.85" font-size="6.95">120 min</text>
<text x="410.8" y="280.6" font-size="6.9" text-anchor="middle">control</text>
<text x="449.8" y="280.6" font-size="6.9" text-anchor="middle">ZnPP</text>
<text x="486.7" y="280.6" font-size="6.9" text-anchor="middle">PPIX</text>
<text x="524.4" y="280.6" font-size="6.9" text-anchor="middle">ZnPC</text>
<line x1="428.1" y1="284.1" x2="542.5" y2="284.1" stroke="#8a8a8a" stroke-width="0.6"/>
<text x="477.3" y="291.9" font-size="7.5" text-anchor="middle">Concentration (5 μM)</text>
<text x="420.6" y="187.9" font-size="6.6" text-anchor="middle" font-weight="bold" letter-spacing="0.2">**</text>
<line x1="415.5" y1="188.6" x2="425.8" y2="188.6" stroke="#222" stroke-width="0.6"/>
<text x="448.5" y="190.3" font-size="6.6" text-anchor="middle" font-weight="bold" letter-spacing="0.2">**</text>
<text x="461.3" y="192.9" font-size="6.6" text-anchor="middle" font-weight="bold" letter-spacing="0.2">**</text>
<text x="533.5" y="190.3" font-size="6.6" text-anchor="middle" font-weight="bold" letter-spacing="0.2">**</text>
<line x1="527.8" y1="191.3" x2="538.6" y2="191.3" stroke="#222" stroke-width="0.6"/>
</g>
</svg>
</body>
</html>
